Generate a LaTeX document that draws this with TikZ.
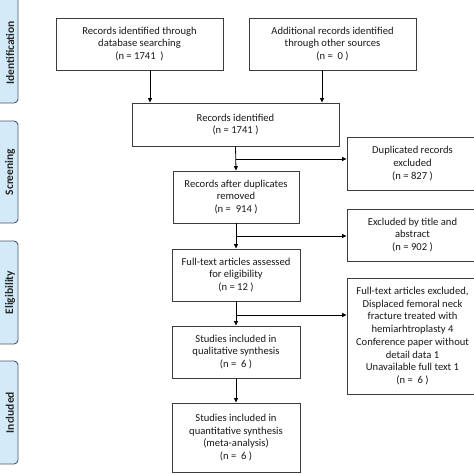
\documentclass[tikz,border=0pt]{standalone}
\usepackage{fontspec}
\setmainfont{Carlito}
\usetikzlibrary{arrows.meta}
\definecolor{sidefill}{HTML}{D3EBF9}
\definecolor{sideline}{HTML}{4F5963}
\definecolor{boxline}{HTML}{3C3C3C}
\begin{document}
\begin{tikzpicture}[x=1pt,y=-1pt,
  mainbox/.style={draw=boxline,line width=0.9pt,fill=white,align=center,inner sep=2pt,
    font=\fontsize{10.6}{12.7}\selectfont,text=black!90},
  sidebox/.style={draw=sideline,line width=0.9pt,fill=sidefill,rounded corners=4pt},
  sidelbl/.style={rotate=90,font=\fontsize{11.5}{13}\selectfont\bfseries,text=black!85},
  arr/.style={draw=black,line width=0.8pt,-{Triangle[length=4.5pt,width=4pt]}}]
\useasboundingbox (0,0) rectangle (474,474);
% side phase labels
\draw[sidebox] (-12,-4) rectangle (18,103);
\node[sidelbl] (sid) at (10,53) {Identification};
\draw[sidebox] (-12,121) rectangle (18,223);
\node[sidelbl] (ssc) at (10,172) {Screening};
\draw[sidebox] (-12,241) rectangle (18,344);
\node[sidelbl] (sel) at (10,292.5) {Eligibility};
\draw[sidebox] (-12,361) rectangle (18,464);
\node[sidelbl] (sin) at (10,412.5) {Included};
% main boxes
\node[mainbox,minimum width=167pt,minimum height=52pt] (b1) at (139.5,44)
  {Records identified through\\database searching\\(n = 1741~~)};
\node[mainbox,minimum width=167pt,minimum height=52pt] (b2) at (332.5,44)
  {Additional records identified\\through other sources\\(n =~~0 )};
\node[mainbox,minimum width=207pt,minimum height=43pt] (b3) at (235.5,124.5)
  {Records identified\\(n = 1741 )};
\node[mainbox,minimum width=126pt,minimum height=52pt] (b4) at (236,197)
  {Records after duplicates\\removed\\(n =~~914 )};
\node[mainbox,minimum width=128pt,minimum height=52pt] (b5) at (236,275)
  {Full-text articles assessed\\for eligibility\\(n = 12 )};
\node[mainbox,minimum width=128pt,minimum height=52pt] (b6) at (236,352)
  {Studies included in\\qualitative synthesis\\(n =~~6 )};
\node[mainbox,minimum width=128pt,minimum height=69pt] (b7) at (236,437.5)
  {Studies included in\\quantitative synthesis\\(meta-analysis)\\(n =~~6 )};
% exclusion boxes
\node[mainbox,minimum width=131pt,minimum height=53pt] (e1) at (412.5,163.5)
  {Duplicated records\\excluded\\(n = 827 )};
\node[mainbox,minimum width=131pt,minimum height=52pt] (e2) at (412.5,235)
  {Excluded by title and\\abstract\\(n = 902 )};
\node[mainbox,minimum width=131pt,minimum height=116pt] (e3) at (412.5,336)
  {Full-text articles excluded,\\Displaced femoral neck\\fracture treated with\\hemiarhtroplasty 4\\Conference paper without\\detail data 1\\Unavailable full text 1\\(n =~~6 )};
% connectors
\coordinate (a1) at (150,70);
\coordinate (a2) at (322,70);
\draw[arr] (a1) -- (a1 |- b3.north);
\draw[arr] (a2) -- (a2 |- b3.north);
\coordinate (j1) at (236,159);
\coordinate (j2) at (236,236);
\coordinate (j3) at (236,315);
\draw[arr] (b3.south) -- (b4.north);
\draw[arr] (j1) -- (j1 -| e1.west);
\draw[arr] (b4.south) -- (b5.north);
\draw[arr] (j2) -- (j2 -| e2.west);
\draw[arr] (b5.south) -- (b6.north);
\draw[arr] (j3) -- (j3 -| e3.west);
\draw[arr] (b6.south) -- (b7.north);
\end{tikzpicture}
\end{document}
